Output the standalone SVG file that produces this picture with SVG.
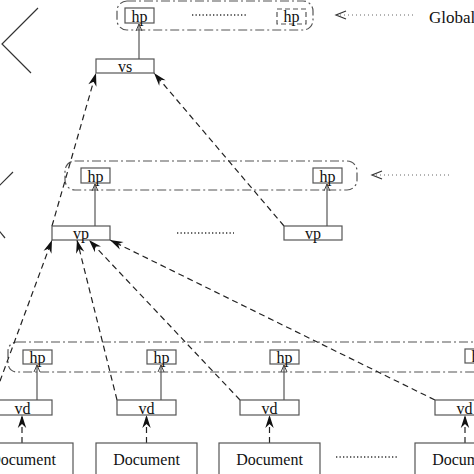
<svg xmlns="http://www.w3.org/2000/svg" width="474" height="474" viewBox="0 0 474 474">
<style>
.box{fill:#fff;stroke:#555;stroke-width:1.2}
.dbox{fill:#fff;stroke:#555;stroke-width:1.2;stroke-dasharray:5 3}
.grp{fill:none;stroke:#555;stroke-width:1.2;stroke-dasharray:9 3 2 3}
.t{font-family:"Liberation Serif",serif;font-size:16px;fill:#111;text-anchor:middle}
.tl{font-family:"Liberation Serif",serif;font-size:17px;fill:#111}
.dash{fill:none;stroke:#222;stroke-width:1.2;stroke-dasharray:6 4;marker-end:url(#fa)}
.sol{fill:none;stroke:#555;stroke-width:1.2;marker-end:url(#oa)}
.dot{fill:none;stroke:#333;stroke-width:1.3;stroke-dasharray:1.3 2.2}
.dotl{fill:none;stroke:#666;stroke-width:1;stroke-dasharray:1 3}
.brk{fill:none;stroke:#333;stroke-width:1.2}
</style>
<defs>
<marker id="fa" viewBox="-14 -6 15 12" refX="0" refY="0" markerWidth="15" markerHeight="12" markerUnits="userSpaceOnUse" orient="auto">
<path d="M0,0 L-13,-4.2 L-9,0 L-13,4.2 Z" fill="#111"/>
</marker>
<marker id="oa" viewBox="-9 -5 10 10" refX="0" refY="0" markerWidth="10" markerHeight="10" markerUnits="userSpaceOnUse" orient="auto">
<path d="M-7,-3 L0,0 L-7,3" fill="none" stroke="#444" stroke-width="1"/>
</marker>
</defs>

<!-- side brackets -->
<polyline class="brk" points="38,8 2,44 31,73"/>
<polyline class="brk" points="13,172 -21,206 5,238"/>

<!-- group outlines -->
<rect class="grp" x="117" y="1" width="196" height="29" rx="10"/>
<rect class="grp" x="65" y="161" width="292" height="29" rx="10"/>
<rect class="grp" x="8" y="342" width="490" height="30" rx="9"/>

<!-- connectors -->
<g id="connectors">
<line class="sol" x1="139" y1="59" x2="139" y2="24"/>
<line class="sol" x1="95" y1="226" x2="95" y2="184"/>
<line class="sol" x1="327" y1="226" x2="327" y2="184"/>
<line class="sol" x1="37" y1="400" x2="37" y2="365"/>
<line class="sol" x1="161" y1="400" x2="161" y2="365"/>
<line class="sol" x1="284" y1="400" x2="284" y2="365"/>
<line class="dash" x1="52" y1="226" x2="96" y2="73"/>
<line class="dash" x1="284" y1="226" x2="154" y2="73"/>
<line class="dash" x1="-7" y1="400" x2="52" y2="240"/>
<line class="dash" x1="117" y1="400" x2="77" y2="240"/>
<line class="dash" x1="240" y1="400" x2="89" y2="240"/>
<line class="dash" x1="435" y1="400" x2="110" y2="240"/>
<line class="dash" x1="22" y1="443" x2="22" y2="415"/>
<line class="dash" x1="146.5" y1="443" x2="146.5" y2="415"/>
<line class="dash" x1="269.5" y1="443" x2="269.5" y2="415"/>
<line class="dash" x1="465" y1="443" x2="465" y2="415"/>
<line class="dotl" x1="340" y1="15" x2="414" y2="15"/>
<path class="brk" d="M346,11 L336,15 L346,19" stroke-width="1"/>
<line class="dotl" x1="376" y1="175" x2="451" y2="175"/>
<path class="brk" d="M382,171 L372,175 L382,179" stroke-width="1"/>
</g>

<!-- ellipsis dots -->
<line class="dot" x1="192" y1="15" x2="247" y2="15"/>
<line class="dot" x1="177" y1="233" x2="234" y2="233"/>
<line class="dot" x1="336" y1="457" x2="399" y2="457"/>

<text class="tl" x="429" y="23">Global</text>

<!-- top level -->
<g id="hp-top1"><rect class="box" x="125" y="8" width="29" height="15"/><text class="t" x="139.5" y="22">hp</text></g>
<g id="hp-top2"><rect class="dbox" x="277" y="9" width="29" height="15"/><text class="t" x="291.5" y="22">hp</text></g>
<g id="vs"><rect class="box" x="96" y="59" width="58" height="14"/><text class="t" x="125" y="72" font-size="17">vs</text></g>

<!-- middle level -->
<g id="hp-mid1"><rect class="box" x="81" y="168" width="29" height="15"/><text class="t" x="95.5" y="182">hp</text></g>
<g id="hp-mid2"><rect class="box" x="313" y="168" width="29" height="15"/><text class="t" x="327.5" y="182">hp</text></g>
<g id="vp1"><rect class="box" x="52" y="226" width="58" height="14"/><text class="t" x="81" y="239" font-size="17">vp</text></g>
<g id="vp2"><rect class="box" x="284" y="226" width="58" height="14"/><text class="t" x="313" y="239" font-size="17">vp</text></g>

<!-- bottom level -->
<g id="hp-b1"><rect class="box" x="23" y="350" width="29" height="14"/><text class="t" x="37.5" y="363">hp</text></g>
<g id="hp-b2"><rect class="box" x="147" y="350" width="29" height="14"/><text class="t" x="161.5" y="363">hp</text></g>
<g id="hp-b3"><rect class="box" x="270" y="350" width="29" height="14"/><text class="t" x="284.5" y="363">hp</text></g>
<g id="hp-b4"><rect class="box" x="465" y="349" width="29" height="14"/><text class="t" x="479.5" y="362">hp</text></g>
<g id="vd1"><rect class="box" x="-7" y="400" width="59" height="15"/><text class="t" x="22.5" y="414" font-size="17">vd</text></g>
<g id="vd2"><rect class="box" x="117" y="400" width="59" height="15"/><text class="t" x="146.5" y="414" font-size="17">vd</text></g>
<g id="vd3"><rect class="box" x="240" y="400" width="59" height="15"/><text class="t" x="269.5" y="414" font-size="17">vd</text></g>
<g id="vd4"><rect class="box" x="435" y="400" width="59" height="15"/><text class="t" x="464.5" y="414" font-size="17">vd</text></g>

<g id="doc1"><rect class="box" x="-28" y="443" width="101" height="33"/><text class="t" x="22.5" y="465" font-size="17">Document</text></g>
<g id="doc2"><rect class="box" x="96" y="443" width="101" height="33"/><text class="t" x="146.5" y="465" font-size="17">Document</text></g>
<g id="doc3"><rect class="box" x="219" y="443" width="101" height="33"/><text class="t" x="269.5" y="465" font-size="17">Document</text></g>
<g id="doc4"><rect class="box" x="415" y="443" width="101" height="33"/><text class="t" x="465.5" y="465" font-size="17">Document</text></g>
</svg>
